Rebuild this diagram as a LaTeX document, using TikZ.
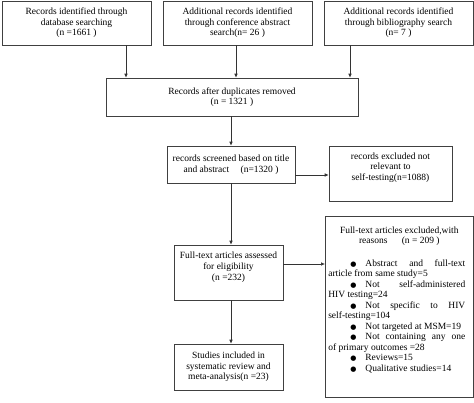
\documentclass[tikz,border=0pt]{standalone}
\usepackage{fontspec}
\setmainfont{Liberation Serif}
\newfontfamily\dejavu{DejaVu Sans}
\usetikzlibrary{arrows.meta}
\newcommand\mybul{{\dejavu\fontsize{7}{7}\selectfont ●}}
\begin{document}
\begin{tikzpicture}[x=1pt,y=-1pt,
 box/.style={draw=black!75, line width=0.6pt, align=center, inner sep=0pt, font=\fontsize{9.5}{10.6}\selectfont},
 arr/.style={draw=black!80, line width=0.6pt, -{Latex[length=4pt,width=3.5pt]}}]
\useasboundingbox[fill=white] (0,0) rectangle (474,402);
\node[box, minimum width=149pt, minimum height=44pt] (b1) at (76.5,23) {Records identified through\\database searching\\(n =1661 )};
\node[box, minimum width=149pt, minimum height=44pt] (b2) at (237.5,23) {Additional records identified\\through conference abstract\\search(n= 26 )};
\node[box, minimum width=149pt, minimum height=44pt] (b3) at (398.5,23) {Additional records identified\\through bibliography search\\(n= 7 )};
\node[box, minimum width=252pt, minimum height=38pt] (dup) at (232,97) {Records after duplicates removed\\(n = 1321 )};
\node[box, minimum width=128pt, minimum height=37pt] (scr) at (231,164.5) {records screened based on title\\and abstract\hspace{1.2em}(n=1320 )};
\node[box, minimum width=123pt, minimum height=55pt] (ex1) at (390.5,173.5) {records excluded not\\relevant to\\self-testing(n=1088)\\[3pt]};
\node[box, minimum width=109pt, minimum height=55pt] (ft) at (228.5,272.5) {Full-text articles assessed\\for eligibility\\(n =232)\\[2pt]};
\node[box, minimum width=109pt, minimum height=46pt] (inc) at (228.5,367) {Studies included in\\systematic review and\\meta-analysis(n =23)};
\node[box, anchor=north west, align=left] (ex2) at (325,216) {\parbox[c][181pt][t]{148pt}{\fontsize{9.5}{9.6}\selectfont
\vspace*{11pt}
{\centering Full-text articles excluded,with\\reasons\hspace{1.5em}(n = 209 )\par}
\vspace{12.5pt}
\fontsize{9.5}{10.5}\selectfont
\leftskip=3pt \rightskip=8pt \parindent=0pt
\hspace*{22pt}\mybul\hspace{9pt}Abstract and full-text\linebreak article from same study=5\par
\hspace*{22pt}\mybul\hspace{9pt}Not self-administered\linebreak HIV testing=24\par
\hspace*{22pt}\mybul\hspace{9pt}Not specific to HIV\linebreak self-testing=104\par
\hspace*{22pt}\mybul\hspace{9pt}Not targeted at MSM=19\par
\hspace*{22pt}\mybul\hspace{9pt}Not containing any one\linebreak of primary outcomes =28\par
\hspace*{22pt}\mybul\hspace{9pt}Reviews=15\par
\hspace*{22pt}\mybul\hspace{9pt}Qualitative studies=14\par}};
\draw[arr] (b1.south -| 126,0) -- (dup.north -| 126,0);
\draw[arr] (b2.south -| 236,0) -- (dup.north -| 236,0);
\draw[arr] (b3.south -| 350,0) -- (dup.north -| 350,0);
\draw[arr] (dup.south -| 231,0) -- (scr.north -| 231,0);
\draw[arr] (scr.east |- 0,175) -- (ex1.west |- 0,175);
\draw[arr] (scr.south -| 231,0) -- (ft.north -| 231,0);
\draw[arr] (ft.east |- 0,264) -- (ex2.west |- 0,264);
\draw[arr] (ft.south -| 231,0) -- (inc.north -| 231,0);
\end{tikzpicture}
\end{document}
